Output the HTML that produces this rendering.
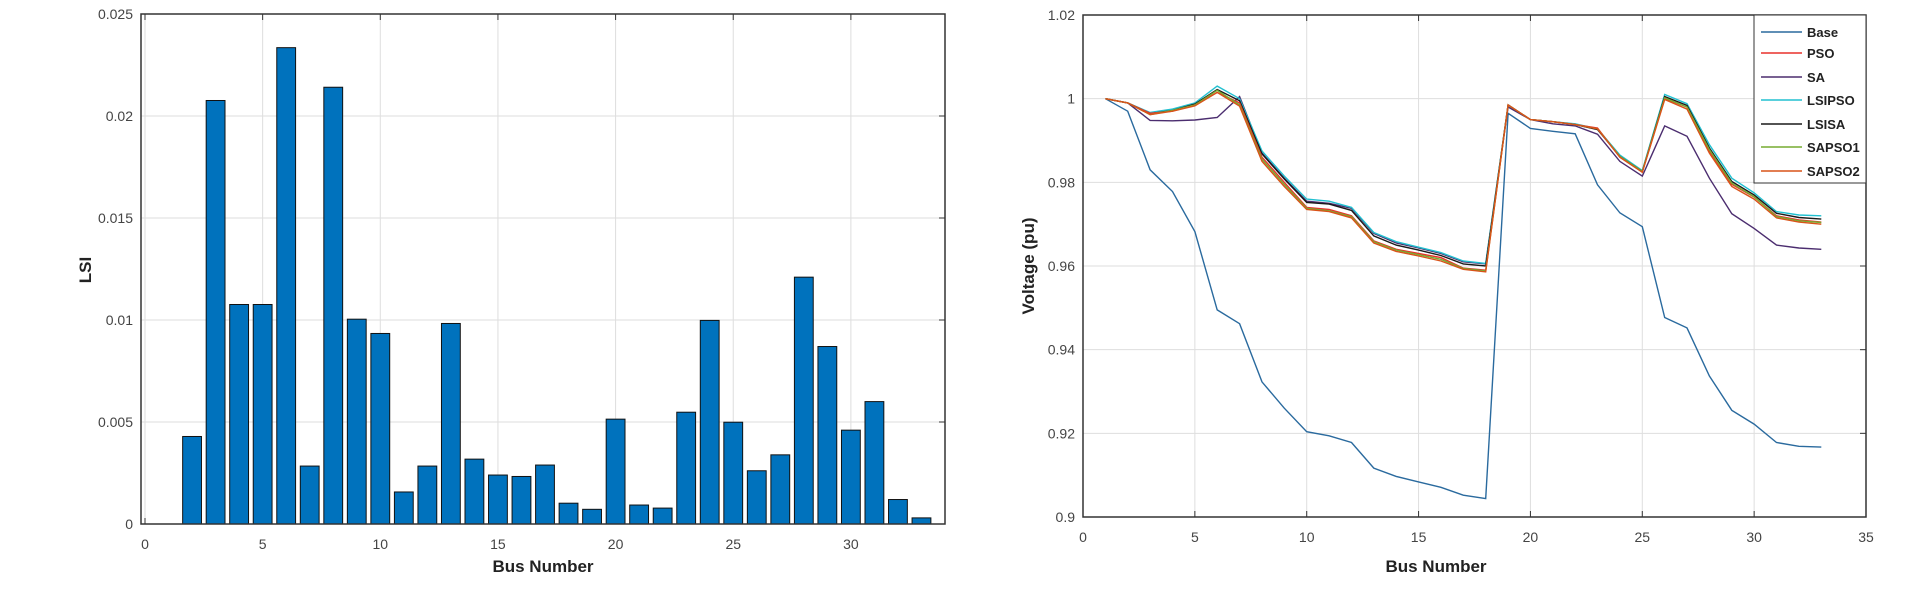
<!DOCTYPE html>
<html><head><meta charset="utf-8">
<style>
html,body{margin:0;padding:0;background:#fff;}
svg{display:block;font-family:"Liberation Sans",sans-serif;}
.tick{font-size:14px;fill:#444;}
.lab{font-size:17px;font-weight:bold;fill:#222;}
.leg{font-size:13px;font-weight:bold;fill:#222;}
</style></head>
<body>
<svg id="fig" width="1910" height="605" viewBox="0 0 1910 605">
<g id="left"></g>
<g id="right"></g>
</svg>
<script>
// ---- Left chart data ----
const lsiBuses = [2,3,4,5,6,7,8,9,10,11,12,13,14,15,16,17,18,19,20,21,22,23,24,25,26,27,28,29,30,31,32,33];
const lsiValues = [0.00429,0.02076,0.01076,0.01076,0.02335,0.00284,0.02141,0.01004,0.00934,0.00157,0.00284,0.00983,0.00318,0.0024,0.00233,0.00289,0.00102,0.00072,0.00514,0.00093,0.00078,0.00548,0.00998,0.00499,0.00261,0.00339,0.0121,0.0087,0.0046,0.006,0.0012,0.0003];
const lsiXTicks = [0,5,10,15,20,25,30];
const lsiYTicks = [0,0.005,0.01,0.015,0.02,0.025];
const lsiYTickLabels = ["0","0.005","0.01","0.015","0.02","0.025"];

// ---- Right chart data ----
const busNumbers = [1,2,3,4,5,6,7,8,9,10,11,12,13,14,15,16,17,18,19,20,21,22,23,24,25,26,27,28,29,30,31,32,33];
const seriesNames = ["Base","PSO","SA","LSIPSO","LSISA","SAPSO1","SAPSO2"];
const vBase = [1,0.997,0.983,0.9778,0.9682,0.9495,0.9462,0.9323,0.926,0.9204,0.9194,0.9178,0.9117,0.9097,0.9084,0.9071,0.9052,0.9044,0.9965,0.9929,0.9922,0.9916,0.9794,0.9727,0.9694,0.9477,0.9452,0.9337,0.9255,0.9222,0.9178,0.9169,0.9167];
const vPSO = [1,0.999,0.9965,0.997,0.9985,1.0015,0.999,0.986,0.98,0.974,0.9735,0.972,0.966,0.964,0.963,0.962,0.9595,0.959,0.9985,0.995,0.9945,0.9938,0.993,0.986,0.9825,1.0,0.998,0.9875,0.9795,0.9765,0.972,0.971,0.9705];
const vSA = [1,0.999,0.9948,0.9947,0.9949,0.9955,1.0005,0.987,0.981,0.9755,0.975,0.9738,0.9678,0.9655,0.9643,0.963,0.961,0.9605,0.998,0.995,0.994,0.9935,0.9915,0.985,0.9815,0.9935,0.991,0.981,0.9725,0.969,0.965,0.9643,0.964];
const vLSIPSO = [1,0.999,0.9967,0.9975,0.999,1.003,1.0,0.9875,0.9815,0.976,0.9755,0.974,0.968,0.9658,0.9645,0.9632,0.9612,0.9606,0.9985,0.995,0.9945,0.994,0.9928,0.9865,0.9828,1.001,0.9988,0.989,0.981,0.9775,0.973,0.9722,0.972];
const vLSISA = [1,0.999,0.9964,0.9972,0.9987,1.0022,0.9995,0.9868,0.9808,0.9752,0.9748,0.9733,0.9672,0.965,0.9638,0.9625,0.9605,0.96,0.9985,0.995,0.9945,0.9938,0.9926,0.9862,0.9826,1.0005,0.9984,0.9882,0.9802,0.977,0.9726,0.9716,0.9712];
const vSAPSO1 = [1,0.999,0.9962,0.9972,0.9985,1.002,0.9985,0.9855,0.9795,0.9738,0.9732,0.9718,0.9658,0.9638,0.9627,0.9616,0.9594,0.9588,0.9985,0.995,0.9945,0.9938,0.9928,0.9862,0.9826,1.0002,0.998,0.9878,0.9798,0.9766,0.9718,0.9708,0.9704];
const vSAPSO2 = [1,0.999,0.9962,0.997,0.9983,1.0015,0.9982,0.985,0.979,0.9735,0.973,0.9715,0.9655,0.9635,0.9624,0.9612,0.9592,0.9586,0.9985,0.995,0.9945,0.9938,0.9928,0.986,0.9824,0.9998,0.9975,0.987,0.979,0.976,0.9715,0.9705,0.97];
const vXTicks = [0,5,10,15,20,25,30,35];
const vYTicks = [0.9,0.92,0.94,0.96,0.98,1,1.02];
const vYTickLabels = ["0.9","0.92","0.94","0.96","0.98","1","1.02"];

const NS="http://www.w3.org/2000/svg";
function mk(parent,tag,attrs,text){const e=document.createElementNS(NS,tag);for(const k in attrs)e.setAttribute(k,attrs[k]);if(text!==undefined)e.textContent=text;parent.appendChild(e);return e;}

// ---- Left chart ----
(function(){
  const g=document.getElementById('left');
  const L=141,R=945,T=14,B=524, xmin=-0.17,xmax=34, ymin=0,ymax=0.025;
  const xs=v=>L+(v-xmin)/(xmax-xmin)*(R-L);
  const ys=v=>B-(v-ymin)/(ymax-ymin)*(B-T);
  lsiXTicks.forEach(t=>{
    const l=mk(g,'line',{x1:xs(t),x2:xs(t),y1:T,y2:B,stroke:'#dedede','stroke-width':1});
    
    
    mk(g,'line',{x1:xs(t),x2:xs(t),y1:B,y2:B-6,stroke:'#333'});
    mk(g,'line',{x1:xs(t),x2:xs(t),y1:T,y2:T+6,stroke:'#333'});
    const tx=mk(g,'text',{x:xs(t),y:B+25,'text-anchor':'middle',class:'tick'},String(t));
    
    
  });
  lsiYTicks.forEach((t,i)=>{
    const l=mk(g,'line',{x1:L,x2:R,y1:ys(t),y2:ys(t),stroke:'#dedede','stroke-width':1});
    
    
    mk(g,'line',{x1:R,x2:R-6,y1:ys(t),y2:ys(t),stroke:'#333'});
    const tx=mk(g,'text',{x:L-8,y:ys(t)+5,'text-anchor':'end',class:'tick'},lsiYTickLabels[i]);
    
    
  });
  lsiBuses.forEach((b,i)=>{
    const w=0.8;
    const r=mk(g,'rect',{x:xs(b-w/2),y:ys(lsiValues[i]),width:xs(b+w/2)-xs(b-w/2),height:ys(0)-ys(lsiValues[i]),fill:'#0072bd',stroke:'#111','stroke-width':1});
    
    
  });
  const box=mk(g,'rect',{x:L,y:T,width:R-L,height:B-T,fill:'none',stroke:'#333','stroke-width':1.5});
  
  
  const xl=mk(g,'text',{x:(L+R)/2,y:572,'text-anchor':'middle',class:'lab'},'Bus Number');
  
  
  const yl=mk(g,'text',{x:0,y:0,'text-anchor':'middle',class:'lab',transform:'translate(91,270) rotate(-90)'},'LSI');
  
  
})();

// ---- Right chart ----
(function(){
  const g=document.getElementById('right');
  const L=1083,R=1866,T=15,B=517, xmin=0,xmax=35, ymin=0.9,ymax=1.02;
  const xs=v=>L+(v-xmin)/(xmax-xmin)*(R-L);
  const ys=v=>B-(v-ymin)/(ymax-ymin)*(B-T);
  vXTicks.forEach(t=>{
    const l=mk(g,'line',{x1:xs(t),x2:xs(t),y1:T,y2:B,stroke:'#dedede'});
    
    
    mk(g,'line',{x1:xs(t),x2:xs(t),y1:B,y2:B-6,stroke:'#333'});
    mk(g,'line',{x1:xs(t),x2:xs(t),y1:T,y2:T+6,stroke:'#333'});
    const tx=mk(g,'text',{x:xs(t),y:B+25,'text-anchor':'middle',class:'tick'},String(t));
    
    
  });
  vYTicks.forEach((t,i)=>{
    const l=mk(g,'line',{x1:L,x2:R,y1:ys(t),y2:ys(t),stroke:'#dedede'});
    
    
    mk(g,'line',{x1:R,x2:R-6,y1:ys(t),y2:ys(t),stroke:'#333'});
    const tx=mk(g,'text',{x:L-8,y:ys(t)+5,'text-anchor':'end',class:'tick'},vYTickLabels[i]);
    
    
  });
  const all=[vBase,vPSO,vSA,vLSIPSO,vLSISA,vSAPSO1,vSAPSO2];
  const cols=['#2a6a9e','#e8312b','#4b2d6f','#22c0d0','#1a1a1a','#77ac30','#d95319'];
  const order=[0,2,3,4,1,5,6];
  order.forEach(si=>{
    const pts=busNumbers.map((b,i)=>xs(b).toFixed(1)+','+ys(all[si][i]).toFixed(1)).join(' ');
    const p=mk(g,'polyline',{points:pts,fill:'none',stroke:cols[si],'stroke-width':1.4});
    
    
  });
  const box=mk(g,'rect',{x:L,y:T,width:R-L,height:B-T,fill:'none',stroke:'#333','stroke-width':1.5});
  
  
  const lg=mk(g,'g',{});
  
  
  mk(lg,'rect',{x:1754,y:T,width:R-1754,height:168,fill:'#fff',stroke:'#333','stroke-width':1});
  const ly=[32,53,77,100,124,147,171];
  seriesNames.forEach((n,i)=>{
    const e=mk(lg,'g',{});
    
    
    mk(e,'line',{x1:1761,x2:1802,y1:ly[i],y2:ly[i],stroke:cols[i],'stroke-width':1.5});
    mk(e,'text',{x:1807,y:ly[i]+5,class:'leg'},n);
  });
  const xl=mk(g,'text',{x:1436,y:572,'text-anchor':'middle',class:'lab'},'Bus Number');
  
  
  const yl=mk(g,'text',{x:0,y:0,'text-anchor':'middle',class:'lab',transform:'translate(1034,266) rotate(-90)'},'Voltage (pu)');
  
  
})();
</script>
</body></html>
